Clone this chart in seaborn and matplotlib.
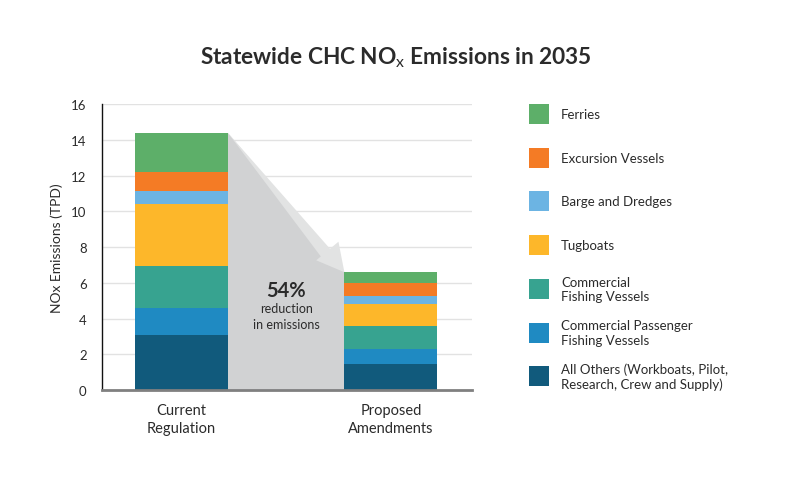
"""Statewide CHC NOx emissions in 2035, stacked by vessel category."""

import matplotlib

matplotlib.use("Agg")

import matplotlib.pyplot as plt
import numpy as np
import pandas as pd
import seaborn as sns
from matplotlib.patches import Polygon, Rectangle

# Data (tons per day), listed bottom of the stack first.
scenarios = ["Current\nRegulation", "Proposed\nAmendments"]
categories = [
    "All Others (Workboats, Pilot,\nResearch, Crew and Supply)",
    "Commercial Passenger\nFishing Vessels",
    "Commercial\nFishing Vessels",
    "Tugboats",
    "Barge and Dredges",
    "Excursion Vessels",
    "Ferries",
]
current_tpd = [3.10, 1.47, 2.35, 3.47, 0.73, 1.08, 2.18]
proposed_tpd = [1.47, 0.82, 1.31, 1.19, 0.49, 0.71, 0.60]
colors = ["#115a7c", "#1f8ac2", "#37a390", "#fdb72a",
          "#6cb4e3", "#f47b25", "#5daf69"]
y_ticks = [0, 2, 4, 6, 8, 10, 12, 14, 16]

TEXT = "#2b2b2b"
BAR_W = 0.444

sns.set_theme(style="white")
plt.rcParams["font.family"] = ["Lato", "DejaVu Sans"]
plt.rcParams["mathtext.fontset"] = "custom"
plt.rcParams["mathtext.rm"] = "Lato"

fig = plt.figure(figsize=(7.92, 4.89), dpi=100)
ax = fig.add_axes([0.1288, 0.2004, 0.467, 0.5848])

# Stacked bars: draw cumulative totals from the tallest down.
stack = pd.DataFrame({"current": current_tpd, "proposed": proposed_tpd},
                     index=categories)
cum = stack.cumsum()
for i in reversed(range(len(categories))):
    layer = pd.DataFrame({
        "scenario": scenarios,
        "tpd": [cum["current"].iloc[i], cum["proposed"].iloc[i]],
    })
    sns.barplot(data=layer, x="scenario", y="tpd", color=colors[i],
                saturation=1, width=BAR_W, errorbar=None, ax=ax, zorder=2,
                linewidth=0, edgecolor="none")

ax.set_xlim(-0.38, 1.387)
ax.set_ylim(0, 16)
ax.set_yticks(y_ticks)
ax.set_axisbelow(True)
ax.yaxis.grid(True, color="#e2e2e2", linewidth=1)
ax.xaxis.grid(False)
for side in ("top", "right"):
    ax.spines[side].set_visible(False)
ax.spines["left"].set_color("#111111")
ax.spines["left"].set_linewidth(1)
ax.spines["bottom"].set_color("#808080")
ax.spines["bottom"].set_linewidth(2)
ax.tick_params(axis="y", length=0, pad=11, labelsize=9.5, labelcolor=TEXT)
ax.tick_params(axis="x", length=0, pad=9.5, labelsize=10.5, labelcolor=TEXT)
for lab in ax.get_xticklabels():
    lab.set_linespacing(1.35)
ax.set_xlabel("")
ax.set_ylabel("NOx Emissions (TPD)", fontsize=10, color=TEXT)
ax.yaxis.set_label_coords(-0.105, 0.5)

# Grey reduction band between the two bar tops.
total_cur = cum["current"].iloc[-1]
total_new = cum["proposed"].iloc[-1]
x_a, x_b = 0 + BAR_W / 2, 1 - BAR_W / 2
ax.add_patch(Polygon([(x_a, total_cur), (x_b, total_new), (x_b, 0), (x_a, 0)],
                     closed=True, facecolor="#d1d2d3", edgecolor="none",
                     zorder=1))

# Lighter arrow from the top of one bar to the top of the other.
fig.canvas.draw()
c_px = ax.transData.transform((x_a, total_cur))
t_px = ax.transData.transform((x_b, total_new))
vec = t_px - c_px
length = np.hypot(*vec)
u = vec / length
n = np.array([u[1], -u[0]])  # points to the upper right side
base = c_px + 0.85 * length * u
arrow_px = [c_px, base + 8 * n, base + 14 * n, t_px, base - 15 * n, base - 4 * n]
arrow_data = ax.transData.inverted().transform(arrow_px)
ax.add_patch(Polygon(arrow_data, closed=True, facecolor="#e2e3e3",
                     edgecolor="none", zorder=1.5))

reduction = round((1 - total_new / total_cur) * 100)
mid_x = (x_a + x_b) / 2
ax.text(mid_x, 5.6, f"{reduction}%", ha="center", va="center",
        fontsize=14.5, fontweight="bold", color=TEXT, zorder=3)
ax.text(mid_x, 4.15, "reduction\nin emissions", ha="center", va="center",
        fontsize=9, color=TEXT, linespacing=1.35, zorder=3)

fig.text(0.5, 0.882, "Statewide CHC NO$_\\mathrm{x}$ Emissions in 2035",
         ha="center", va="center", fontsize=16.3, fontweight="bold",
         color=TEXT)

# Legend, top entry first.
row0_px, row_step_px = 115, 43.7
for k, idx in enumerate(reversed(range(len(categories)))):
    yc = 1 - (row0_px + k * row_step_px) / 489
    fig.add_artist(Rectangle((529 / 792, yc - 10 / 489), 20 / 792, 20 / 489,
                             transform=fig.transFigure,
                             facecolor=colors[idx], edgecolor="none"))
    fig.text(561 / 792, yc, categories[idx], ha="left", va="center",
             fontsize=9.5, color=TEXT, linespacing=1.25)

fig.savefig("out.png", dpi=100)
